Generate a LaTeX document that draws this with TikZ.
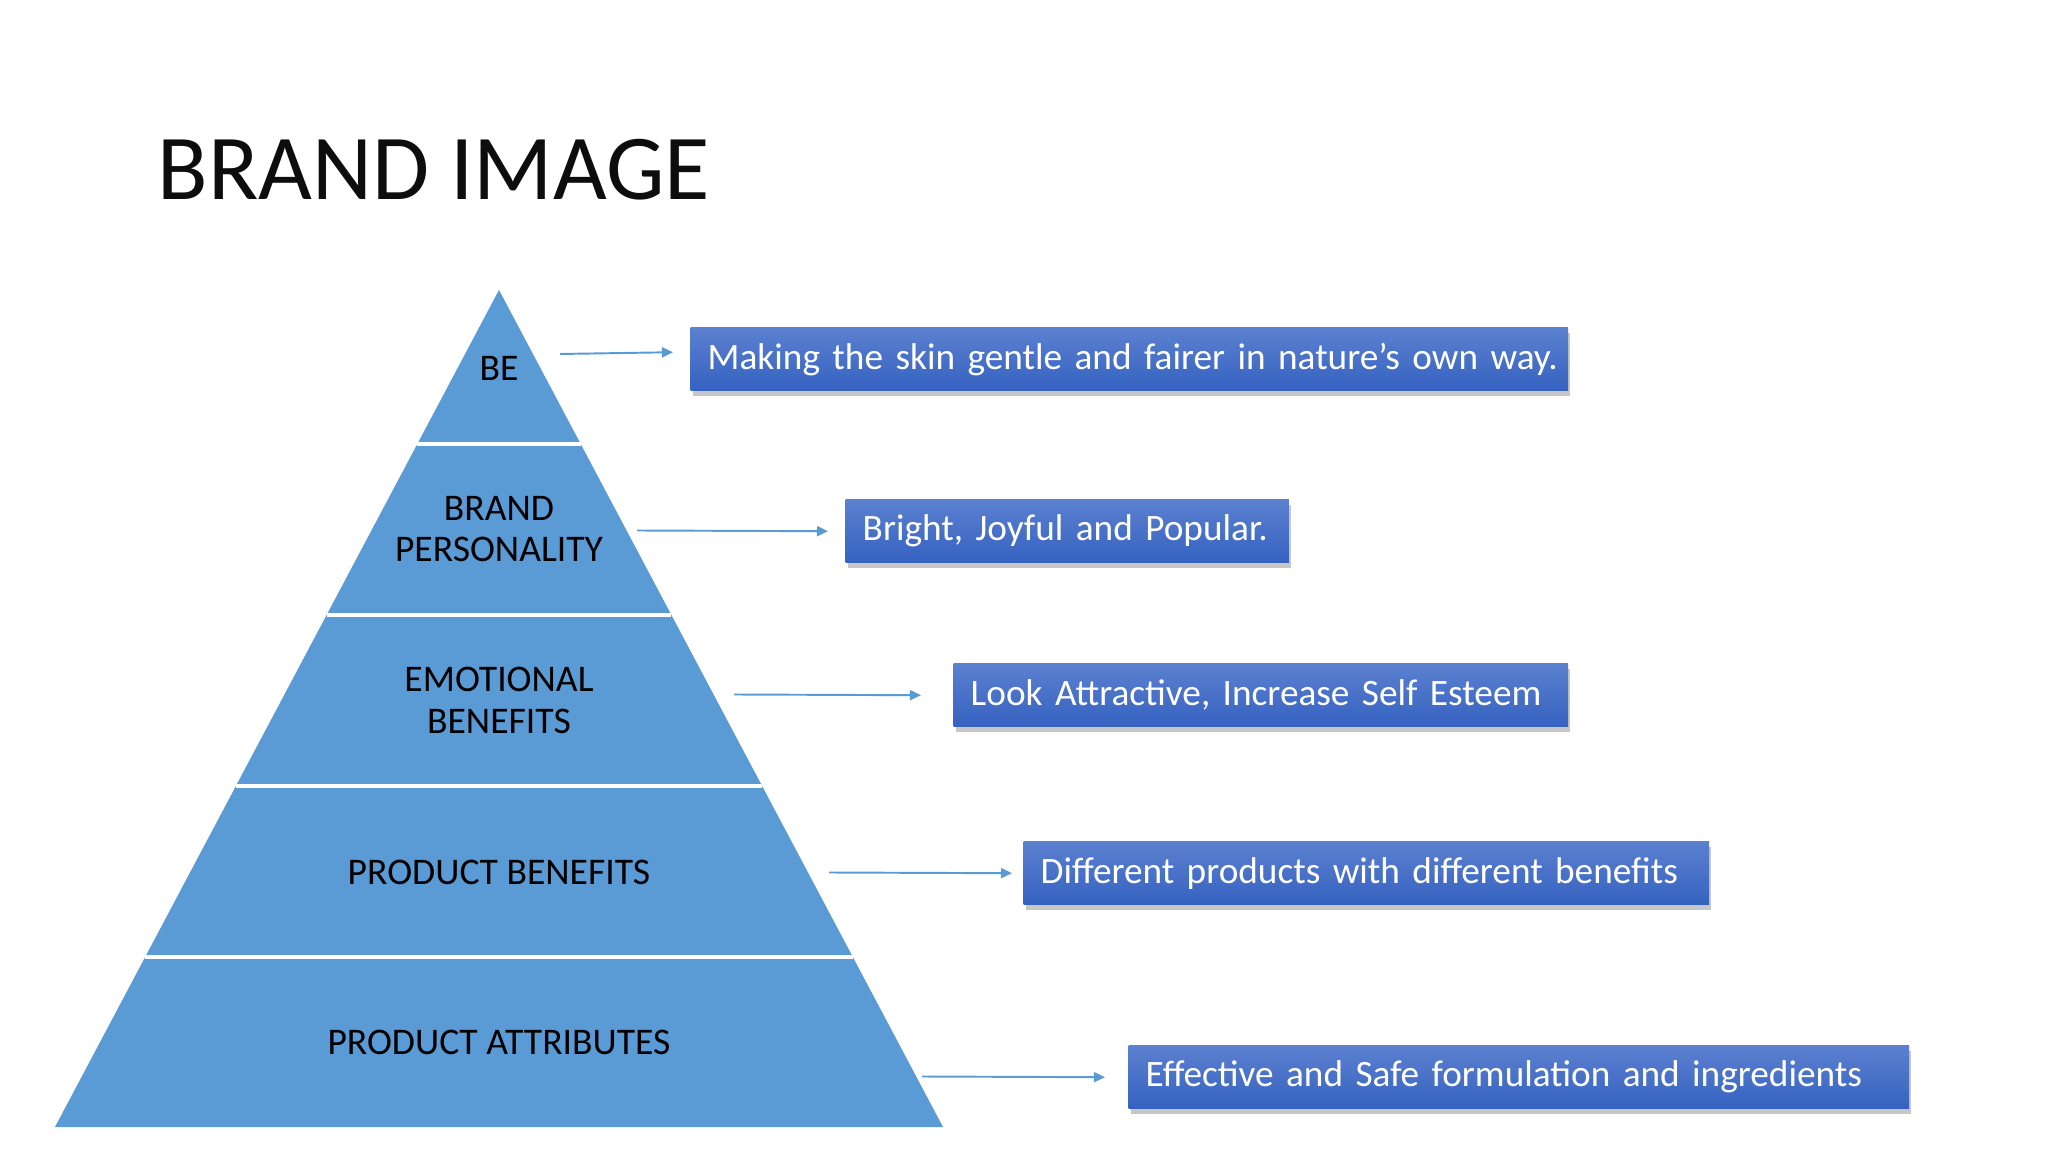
\documentclass[tikz,border=0pt]{standalone}
\usepackage{fontspec}
\setmainfont{Carlito}
\usepackage{tikz}
\usetikzlibrary{arrows.meta,shadows}
\definecolor{pyrblue}{HTML}{5B9BD5}
\definecolor{boxtop}{HTML}{5B80CF}
\definecolor{boxbot}{HTML}{3562C0}
\definecolor{ink}{HTML}{0D0D0D}

\begin{document}
\begin{tikzpicture}[
  x=0.01cm, y=-0.01cm,
  title/.style={font=\fontsize{26.4}{30}\selectfont, text=ink, inner sep=0pt, anchor=base west},
  layer/.style={font=\fontsize{10.7}{11.9}\selectfont, text=black, align=center, inner sep=0pt},
  msg/.style={font=\fontsize{10.6}{12}\selectfont, text=white, anchor=north west,
              top color=boxtop, bottom color=boxbot, draw=none,
              minimum height=0.63cm, inner xsep=0.17cm, inner ysep=0pt, align=left,
              drop shadow={shadow xshift=0.02cm, shadow yshift=-0.05cm, fill=black!40, opacity=0.55}},
  arrow/.style={-{Triangle[length=0.11cm, width=0.1cm]}, line width=0.55pt, draw=pyrblue}
]
  \useasboundingbox (0,0) rectangle (2048,1152);
  \fill[white] (0,0) rectangle (2048,1152);

  \node[title] (head) at (157,200) {BRAND IMAGE};

  % pyramid and layer separators
  \fill[pyrblue] (499,290) -- (943,1127) -- (55,1127) -- cycle;
  \draw[white, line width=1.1pt] (417.3,444) -- (580.7,444);
  \draw[white, line width=1.1pt] (326.6,615) -- (671.4,615);
  \draw[white, line width=1.1pt] (235.9,786) -- (762.1,786);
  \draw[white, line width=1.1pt] (145.2,957) -- (852.8,957);

  \node[layer] (be) at (499,368) {BE};
  \node[layer] (pers) at (499,529) {BRAND\\PERSONALITY};
  \node[layer] (emo) at (499,700) {EMOTIONAL\\BENEFITS};
  \node[layer] (prodben) at (499,872) {PRODUCT BENEFITS};
  \node[layer] (attr) at (499,1042) {PRODUCT ATTRIBUTES};

  \node[msg, text width=8.43cm] (msg1) at (690,327) {\mbox{Making the skin gentle and fairer in nature’s own way.}};
  \node[msg, text width=4.09cm] (msg2) at (845,499) {Bright, Joyful and Popular.};
  \node[msg, text width=5.80cm] (msg3) at (953,663) {Look Attractive, Increase Self Esteem};
  \node[msg, text width=6.51cm] (msg4) at (1023,841) {Different products with different benefits};
  \node[msg, text width=7.46cm] (msg5) at (1128,1045) {Effective and Safe formulation and ingredients};

  \coordinate (be-out) at (560,354);
  \coordinate (pers-out) at (637,530.5);
  \coordinate (emo-out) at (734,694.5);
  \coordinate (prodben-out) at (829,872.5);
  \coordinate (attr-out) at (922,1076.5);

  \draw[arrow] (be-out) -- ([xshift=-0.17cm, yshift=0.07cm]msg1.west);
  \draw[arrow] (pers-out) -- ([xshift=-0.17cm]msg2.west);
  \draw[arrow] (emo-out) -- ([xshift=-0.32cm]msg3.west);
  \draw[arrow] (prodben-out) -- ([xshift=-0.11cm]msg4.west);
  \draw[arrow] (attr-out) -- ([xshift=-0.23cm]msg5.west);
\end{tikzpicture}
\end{document}
